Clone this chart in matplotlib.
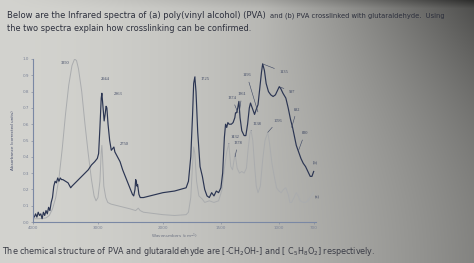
import numpy as np
import matplotlib
matplotlib.use("Agg")
import matplotlib.pyplot as plt

# ---------------- data ----------------
# (b) PVA crosslinked with glutaraldehyde (dark curve)
wn_b = [4000, 3980, 3960, 3940, 3920, 3900, 3880, 3860, 3840, 3820, 3800, 3780, 3760, 3740,
        3720, 3700, 3680, 3660, 3640, 3620, 3600, 3580, 3560, 3540, 3500, 3460, 3420, 3400,
        3350, 3300, 3250, 3200, 3150, 3100, 3050, 3010, 2990, 2970, 2950, 2940, 2925, 2905,
        2890, 2875, 2863, 2845, 2820, 2795, 2775, 2755, 2740, 2700, 2660, 2620, 2580, 2540,
        2500, 2470, 2450, 2430, 2420, 2410, 2400, 2390, 2370, 2350, 2300, 2250, 2200, 2150,
        2100, 2050, 2000, 1950, 1900, 1850, 1800, 1780, 1760, 1745, 1735, 1725, 1715, 1700,
        1680, 1660, 1640, 1620, 1600, 1580, 1560, 1540, 1520, 1500, 1485, 1470, 1460, 1450,
        1440, 1430, 1410, 1395, 1380, 1374, 1365, 1355, 1345, 1335, 1320, 1300, 1285, 1270,
        1255, 1245, 1230, 1210, 1196, 1180, 1165, 1150, 1140, 1125, 1110, 1090, 1070, 1050,
        1030, 1010, 997, 985, 965, 940, 920, 900, 882, 865, 850, 830, 810, 790, 770, 750,
        730, 715, 700]
ab_b = [0.04, 0.03, 0.05, 0.03, 0.06, 0.04, 0.05, 0.02, 0.06, 0.04, 0.07, 0.05, 0.09, 0.07,
        0.12, 0.15, 0.22, 0.25, 0.24, 0.27, 0.25, 0.27, 0.26, 0.26, 0.25, 0.24, 0.21, 0.22,
        0.24, 0.26, 0.28, 0.30, 0.32, 0.35, 0.37, 0.39, 0.42, 0.58, 0.76, 0.79, 0.72, 0.62,
        0.66, 0.71, 0.70, 0.60, 0.50, 0.44, 0.45, 0.46, 0.43, 0.40, 0.37, 0.32, 0.28, 0.24,
        0.20, 0.17, 0.16, 0.20, 0.26, 0.25, 0.22, 0.23, 0.17, 0.15, 0.15, 0.155, 0.16, 0.165,
        0.17, 0.175, 0.18, 0.185, 0.19, 0.20, 0.21, 0.25, 0.40, 0.65, 0.85, 0.89, 0.80, 0.55,
        0.34, 0.28, 0.20, 0.16, 0.15, 0.18, 0.16, 0.19, 0.18, 0.21, 0.30, 0.52, 0.60, 0.58,
        0.61, 0.60, 0.60, 0.61, 0.64, 0.67, 0.67, 0.70, 0.74, 0.64, 0.56, 0.53, 0.53, 0.60,
        0.70, 0.73, 0.70, 0.66, 0.69, 0.72, 0.82, 0.92, 0.97, 0.93, 0.85, 0.80, 0.78, 0.77,
        0.78, 0.81, 0.83, 0.82, 0.79, 0.76, 0.70, 0.63, 0.58, 0.52, 0.47, 0.43, 0.39, 0.36,
        0.34, 0.31, 0.28, 0.28, 0.31]

# (a) PVA (light curve)
wn_a = [4000, 3900, 3800, 3750, 3700, 3650, 3600, 3550, 3500, 3450, 3400, 3360, 3330, 3300,
        3250, 3200, 3150, 3100, 3060, 3030, 3000, 2970, 2950, 2940, 2930, 2910, 2880, 2850,
        2800, 2700, 2600, 2500, 2420, 2380, 2350, 2300, 2200, 2100, 2000, 1900, 1800, 1780,
        1760, 1745, 1735, 1725, 1710, 1690, 1660, 1640, 1600, 1560, 1520, 1490, 1470, 1450,
        1432, 1415, 1400, 1378, 1360, 1340, 1320, 1300, 1280, 1265, 1250, 1240, 1225, 1210,
        1195, 1180, 1160, 1140, 1120, 1096, 1080, 1060, 1040, 1020, 1000, 980, 960, 940, 920,
        905, 890, 870, 850, 835, 815, 790, 770, 750, 720, 700]
ab_a = [0.02, 0.02, 0.025, 0.04, 0.08, 0.15, 0.27, 0.45, 0.66, 0.84, 0.96, 1.0, 0.99, 0.94,
        0.80, 0.60, 0.42, 0.26, 0.16, 0.13, 0.15, 0.25, 0.43, 0.47, 0.40, 0.22, 0.15, 0.12,
        0.11, 0.10, 0.09, 0.08, 0.07, 0.085, 0.07, 0.06, 0.055, 0.05, 0.045, 0.04, 0.045, 0.06,
        0.15, 0.35, 0.46, 0.42, 0.25, 0.16, 0.14, 0.12, 0.13, 0.12, 0.13, 0.20, 0.33, 0.43,
        0.48, 0.34, 0.32, 0.42, 0.33, 0.30, 0.31, 0.30, 0.33, 0.45, 0.54, 0.56, 0.50, 0.35,
        0.22, 0.18, 0.22, 0.38, 0.50, 0.55, 0.48, 0.36, 0.28, 0.21, 0.19, 0.18, 0.20, 0.21, 0.17,
        0.12, 0.12, 0.15, 0.18, 0.16, 0.13, 0.12, 0.12, 0.13, 0.16, 0.18]

# peak labels: (text, label wavenumber, label absorbance, leader-end wn, leader-end abs)
labels_b = [("3350", 3508, 0.975, None, None),
            ("2944", 2885, 0.877, None, None),
            ("2863", 2685, 0.785, None, None),
            ("2750", 2592, 0.48, None, None),
            ("1725", 1640, 0.877, 1722, 0.89),
            ("1374", 1405, 0.76, 1353, 0.67),
            ("1361", 1319, 0.785, 1340, 0.68),
            ("1196", 1276, 0.90, 1181, 0.675),
            ("1135", 960, 0.92, 1140, 0.97),
            ("997", 888, 0.80, 997, 0.83),
            ("882", 845, 0.69, 890, 0.58),
            ("830", 776, 0.545, 830, 0.44)]
labels_a = [("1432", 1379, 0.52, 1432, 0.48),
            ("1378", 1353, 0.485, 1378, 0.40),
            ("1238", 1190, 0.60, 1240, 0.56),
            ("1096", 1009, 0.62, 1096, 0.55)]
xticks = [4000, 3000, 2000, 1500, 1000, 700]
yticks = [0.0, 0.1, 0.2, 0.3, 0.4, 0.5, 0.6, 0.7, 0.8, 0.9, 1.0]

# ---------------- figure ----------------
W, H = 474, 263
fig = plt.figure(figsize=(W / 100, H / 100), dpi=100)

# photographed-screen background
yy, xx = np.mgrid[0:H, 0:W]
fx = xx / W
fy = yy / H
v = 212 - 80 * fx ** 1.8 - 125 * np.clip(fx - 0.55, 0, None) * (1 - fy) ** 2.2
v = v - 30 * np.clip(0.03 - fy, 0, None) / 0.03 * fx
v = np.clip(v, 0, 255) / 255.0
bg = np.dstack([v * 0.995, v * 0.995, v * 0.975])
bgax = fig.add_axes([0, 0, 1, 1], zorder=-5)
bgax.imshow(bg, aspect="auto", extent=[0, 1, 0, 1])
bgax.axis("off")

tc = "#2c2f3c"
fig.text(7 / W, 1 - 15 / H, "Below are the Infrared spectra of (a) poly(vinyl alcohol) (PVA)",
         fontsize=6.0, color=tc, va="center", ha="left")
fig.text(270 / W, 1 - 16 / H, "and (b) PVA crosslinked with glutaraldehyde.  Using",
         fontsize=4.9, color=tc, va="center", ha="left")
fig.text(7 / W, 1 - 29 / H, "the two spectra explain how crosslinking can be confirmed.",
         fontsize=5.9, color=tc, va="center", ha="left")
fig.text(2 / W, 1 - 251 / H,
         "The chemical structure of PVA and glutaraldehyde are [-CH$_2$OH-] and [ C$_5$H$_8$O$_2$] respectively.",
         fontsize=5.8, color="#3a3c46", va="center", ha="left")


def fwd(w):
    # increasing in w; scale change at 2000 cm-1
    w = np.asarray(w, dtype=float)
    return np.where(w >= 2000, (w - 2000) * 0.065, (w - 2000) * 0.116)


def inv(p):
    p = np.asarray(p, dtype=float)
    return np.where(p >= 0, 2000 + p / 0.065, 2000 + p / 0.116)


ax = fig.add_axes([33 / W, 1 - 222 / H, 283 / W, 163 / H])
ax.patch.set_alpha(0)
ax.set_xscale("function", functions=(fwd, inv))
ax.plot(wn_a, ab_a, color="#aaacae", lw=0.7)
ax.plot(wn_b, ab_b, color="#2b3552", lw=0.85)
ax.set_xlim(4000, 680)
ax.set_ylim(0, 1.0)
ax.set_xticks(xticks)
ax.set_xticklabels([str(t) for t in xticks])
ax.set_yticks(yticks)
ax.set_yticklabels([f"{t:.1f}" for t in yticks])
ax.tick_params(labelsize=3, length=1.5, width=0.4, colors="#7a8296", pad=1.5)
for s in ("top", "right"):
    ax.spines[s].set_visible(False)
for s in ("left", "bottom"):
    ax.spines[s].set_color("#7a88a4")
    ax.spines[s].set_linewidth(0.8)
ax.set_xlabel("Wavenumbers (cm$^{-1}$)", fontsize=3, color="#6a7080", labelpad=1)
ax.set_ylabel("Absorbance (corrected units)", fontsize=3, color="#4a5270", labelpad=5)

lab_font = dict(fontsize=3.2, color="#3a4460", family="Liberation Serif")
for txt, lw_, la_, ew, ea in labels_b + labels_a:
    if ew is None:
        ax.text(lw_, la_, txt, ha="center", va="center", **lab_font)
    else:
        ax.annotate(txt, xy=(ew, ea), xytext=(lw_, la_), ha="center", va="center",
                    arrowprops=dict(arrowstyle="-", color="#3a4460", lw=0.4,
                                    shrinkA=1.5, shrinkB=0), **lab_font)
ax.text(690, 0.37, "(b)", ha="center", va="center", clip_on=False, **lab_font)
ax.text(672, 0.155, "(a)", ha="center", va="center", clip_on=False, **lab_font)

fig.savefig("out.png", dpi=100)
